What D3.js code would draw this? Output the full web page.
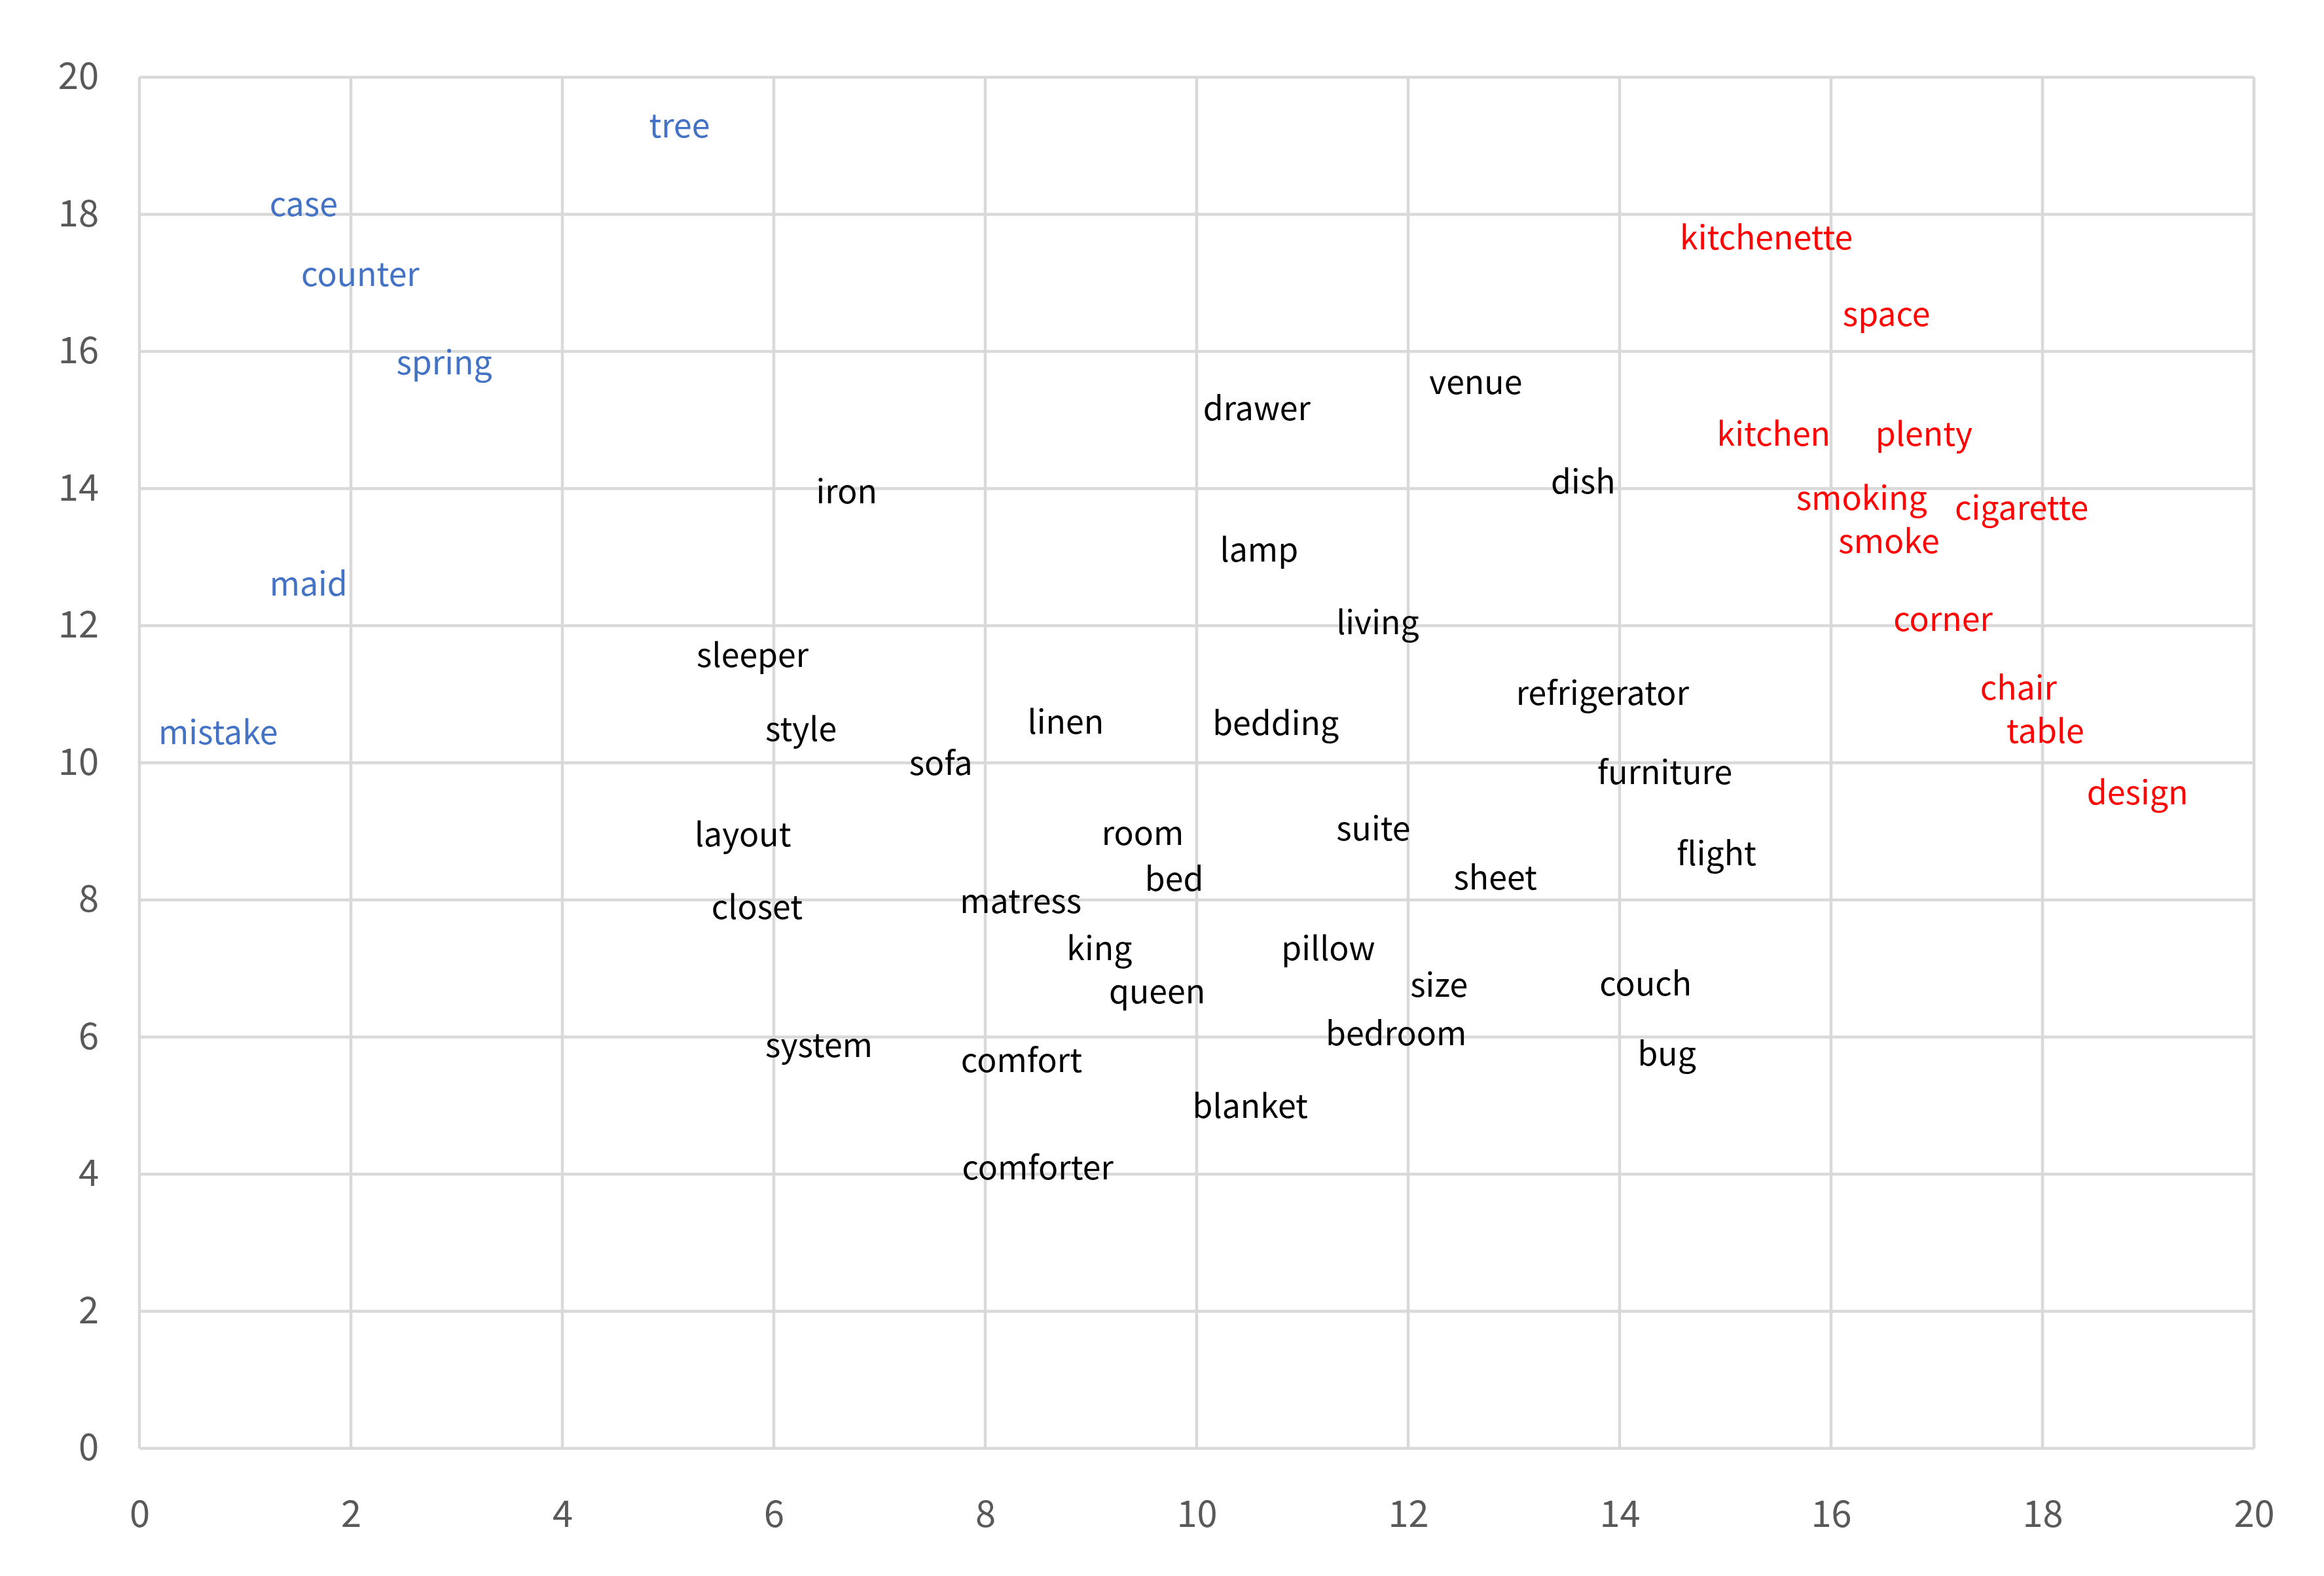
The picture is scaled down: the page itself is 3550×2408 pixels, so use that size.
<!DOCTYPE html>
<html><head><meta charset="utf-8">
<script src="https://cdn.jsdelivr.net/npm/d3@7"></script>
<style>body{margin:0;background:#fff}</style>
</head><body>
<script>
// word positions [word, x, y]
const blueWords = [["tree",4.82,19.29],["case",1.23,18.14],["counter",1.53,17.12],["spring",2.43,15.83],
  ["maid",1.23,12.61],["mistake",0.18,10.44]];
const redWords = [["kitchenette",14.57,17.66],["space",16.11,16.54],["kitchen",14.92,14.79],["plenty",16.42,14.79],
  ["smoking",15.67,13.86],["cigarette",17.17,13.71],["smoke",16.07,13.23],["corner",16.59,12.09],
  ["chair",17.41,11.09],["table",17.66,10.46],["design",18.42,9.56]];
const blackWords = [["venue",12.20,15.55],["drawer",10.06,15.16],["dish",13.35,14.10],["iron",6.40,13.95],
  ["lamp",10.22,13.10],["living",11.32,12.04],["sleeper",5.27,11.57],["refrigerator",13.02,11.01],
  ["linen",8.40,10.59],["bedding",10.15,10.57],["style",5.92,10.49],["sofa",7.28,9.99],
  ["furniture",13.79,9.86],["layout",5.25,8.95],["room",9.10,8.97],["suite",11.32,9.04],
  ["flight",14.54,8.67],["bed",9.51,8.30],["sheet",12.43,8.32],["matress",7.76,7.98],
  ["closet",5.41,7.89],["king",8.77,7.29],["pillow",10.80,7.29],["queen",9.17,6.66],
  ["size",12.02,6.75],["couch",13.81,6.77],["bedroom",11.22,6.05],["system",5.92,5.88],
  ["comfort",7.77,5.66],["bug",14.17,5.75],["blanket",9.96,4.99],["comforter",7.78,4.09]];
const ticks = [0,2,4,6,8,10,12,14,16,18,20];

const width = 3550, height = 2408;
const margin = {top: 118, right: 107, bottom: 195, left: 213};
const font = "'Noto Sans CJK KR', 'Noto Sans', sans-serif";

const svg = d3.select("body").append("svg").attr("width", width).attr("height", height);

const x = d3.scaleLinear().domain([0, 20]).range([margin.left, width - margin.right]);
const y = d3.scaleLinear().domain([0, 20]).range([height - margin.bottom, margin.top]);

svg.append("g").selectAll("line").data(ticks).join("line")
  .attr("x1", d => x(d)).attr("x2", d => x(d)).attr("y1", y(0)).attr("y2", y(20))
  .attr("stroke", "#d9d9d9").attr("stroke-width", 4.5);
svg.append("g").selectAll("line").data(ticks).join("line")
  .attr("y1", d => y(d)).attr("y2", d => y(d)).attr("x1", x(0)).attr("x2", x(20))
  .attr("stroke", "#d9d9d9").attr("stroke-width", 4.5);

svg.append("g").attr("transform", `translate(0,${y(0) + 80})`)
  .call(d3.axisBottom(x).tickValues(ticks).tickSize(0).tickPadding(0))
  .call(g => g.select(".domain").remove())
  .selectAll("text").attr("font-family", font).attr("font-size", 56).attr("fill", "#595959");
svg.append("g").attr("transform", `translate(${x(0) - 62},0)`)
  .call(d3.axisLeft(y).tickValues(ticks).tickSize(0).tickPadding(0))
  .call(g => g.select(".domain").remove())
  .selectAll("text").attr("font-family", font).attr("font-size", 56).attr("fill", "#595959");

function words(data, color) {
  svg.append("g").selectAll("text").data(data).join("text")
    .attr("x", d => x(d[1])).attr("y", d => y(d[2])).attr("dy", "0.35em")
    .attr("font-family", font).attr("font-size", 50).attr("fill", color)
    .text(d => d[0]);
}
words(blackWords, "#000000");
words(blueWords, "#4472c4");
words(redWords, "#ff0000");
</script>
</body></html>
